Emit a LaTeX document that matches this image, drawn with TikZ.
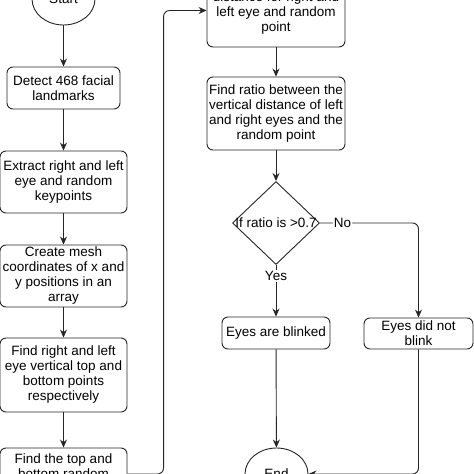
\documentclass[tikz,border=0pt]{standalone}
\usepackage{fontspec}
\setmainfont{Liberation Sans}
\usetikzlibrary{shapes.geometric,arrows.meta}
\begin{document}
\begin{tikzpicture}[x=1pt,y=-1pt,
  txt/.style={font=\fontsize{13.5}{15}\selectfont},
  box/.style={txt, draw=black!85, fill=white, line width=0.9pt, rounded corners=6pt, align=center, inner sep=1pt},
  term/.style={txt, draw=black!85, fill=white, line width=0.9pt, ellipse, inner sep=1pt, minimum width=63, minimum height=52},
  dia/.style={draw=black!85, fill=white, line width=0.9pt, diamond, minimum width=87, minimum height=83, inner sep=0pt},
  arr/.style={draw=black!85, line width=0.9pt, -{Stealth[length=8pt,width=7pt]}},
  lbl/.style={txt, fill=white, inner sep=1pt}]
\useasboundingbox (0,0) rectangle (474,474);
\clip (0,0) rectangle (474,474);
\fill[white] (0,0) rectangle (474,474);
% left column
\node[term] (start) at (63.5,-1) {Start};
\node[box, minimum width=113, minimum height=42] (b1) at (63.5,88) {Detect 468 facial\\landmarks};
\node[box, minimum width=127, minimum height=62] (b2) at (63.5,182) {Extract right and left\\eye and random\\keypoints};
\node[box, minimum width=127, minimum height=62] (b3) at (63.5,276) {Create mesh\\coordinates of x and\\y positions in an\\array};
\node[box, minimum width=127, minimum height=74] (b4) at (63.5,375) {Find right and left\\eye vertical top and\\bottom points\\respectively};
\node[box, minimum width=127, minimum height=52] (b5) at (63.5,474) {Find the top and\\bottom random\\\mbox{}};
% right column
\node[box, minimum width=138, minimum height=73] (bA) at (276,10.5) {\mbox{}\\distance for right and\\left eye and random\\point};
\node[box, minimum width=138, minimum height=73] (bB) at (276,113.5) {Find ratio between the\\vertical distance of left\\and right eyes and the\\random point};
\node[dia, label={[txt]center:If ratio is >0.7}] (d) at (276,223) {};
\node[box, minimum width=108, minimum height=32] (eb) at (276,333) {Eyes are blinked};
\node[box, minimum width=109, minimum height=31] (nb) at (418.5,333.5) {Eyes did not\\blink};
\node[term] (end) at (276.5,474) {End};
% connectors
\draw[arr] (start) -- (b1);
\draw[arr] (b1) -- (b2);
\draw[arr] (b2) -- (b3);
\draw[arr] (b3) -- (b4);
\draw[arr] (b4) -- (b5);
\draw[arr, rounded corners=6pt] (b5.east) -| ([xshift=-43pt]bA.west) -- (bA.west);
\draw[arr] (bA) -- (bB);
\draw[arr] (bB) -- (d);
\draw[arr] (d.south) -- node[lbl, pos=0.21] {Yes} (eb.north);
\draw[arr, rounded corners=6pt] (d.east) -| node[lbl, pos=0.115] {No} (nb.north);
\draw[arr] (eb) -- (end);
\draw[arr, rounded corners=6pt] (nb.south) |- (end.east);
\end{tikzpicture}
\end{document}
